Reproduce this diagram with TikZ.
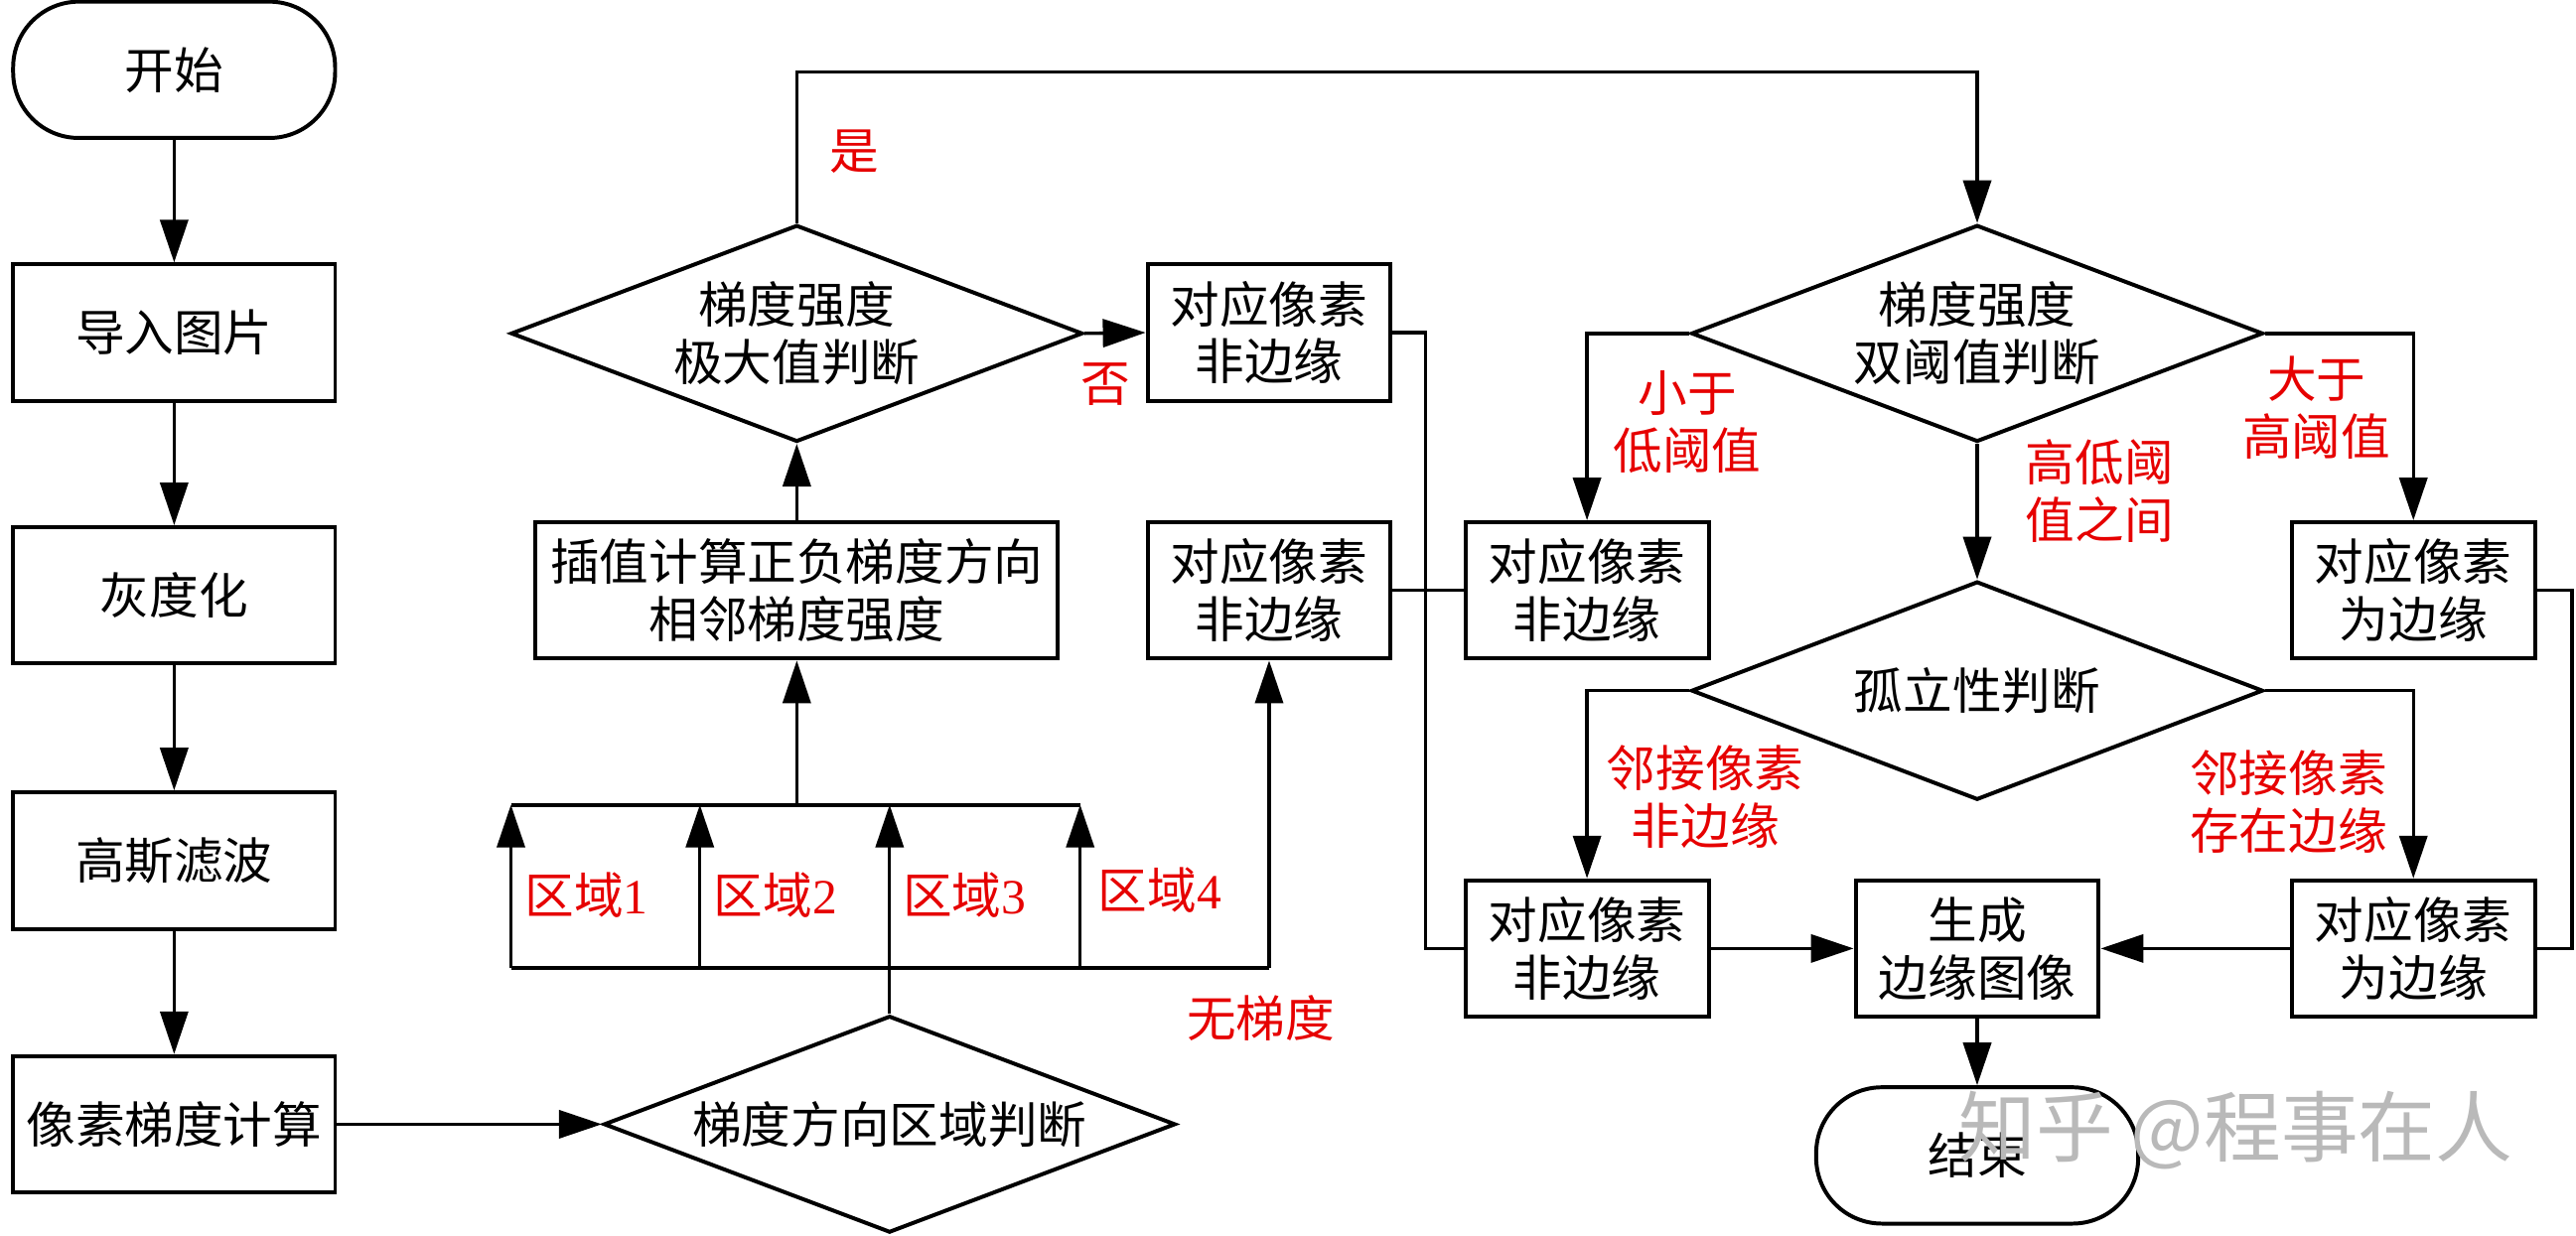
\documentclass[tikz,border=0pt]{standalone}
\usepackage{fontspec}
\setmainfont{Noto Sans CJK SC}
\newfontfamily\latinfont{Liberation Serif}
\usetikzlibrary{shapes.geometric,arrows.meta}
\definecolor{lblred}{RGB}{230,0,0}
\definecolor{wmgray}{RGB}{185,185,185}
\begin{document}
\begin{tikzpicture}[x=0.5pt,y=-0.5pt,
  every node/.style={font=\fontsize{15pt}{17.5pt}\selectfont, align=center, inner sep=0pt},
  box/.style={draw, line width=1.2pt, rectangle, minimum width=#1, minimum height=41.5pt},
  box/.default=74pt,
  term/.style={draw, line width=1.2pt, rectangle, rounded corners=20pt, minimum width=98pt, minimum height=41.5pt},
  dia/.style={draw, line width=1.2pt, diamond, aspect=2.6, minimum width=174pt, minimum height=66pt},
  lbl/.style={text=lblred},
  conn/.style={line width=1pt},
  bus/.style={line width=1.2pt},
  arr/.style={conn, -{Triangle[length=13pt,width=8.5pt]}}
]
\useasboundingbox (0,0) rectangle (1568,752);

% left column
\node[term] (start) at (106,42.5) {开始};
\node[box=98pt] (import) at (106,202.5) {导入图片};
\node[box=98pt] (gray) at (106,362.5) {灰度化};
\node[box=98pt] (gauss) at (106,524) {高斯滤波};
\node[box=98pt] (grad) at (106,684.5) {像素梯度计算};

% middle
\node[dia] (dirj) at (541.5,684.5) {梯度方向区域判断};
\node[box=159pt] (interp) at (485,359.5) {插值计算正负梯度方向\\相邻梯度强度};
\node[dia] (maxj) at (485,203) {梯度强度\\极大值判断};
\node[box] (nA) at (772.5,202.5) {对应像素\\非边缘};
\node[box] (nB) at (772.5,359.5) {对应像素\\非边缘};

% right
\node[dia] (dbl) at (1203.5,203) {梯度强度\\双阈值判断};
\node[box] (low) at (966,359.5) {对应像素\\非边缘};
\node[box] (high) at (1469,359.5) {对应像素\\为边缘};
\node[dia, minimum height=66.5pt] (iso) at (1203.5,420.5) {孤立性判断};
\node[box] (nbot) at (966,577.5) {对应像素\\非边缘};
\node[box] (gen) at (1203.5,577.5) {生成\\边缘图像};
\node[box] (ebot) at (1469,577.5) {对应像素\\为边缘};
\node[term] (endt) at (1203.5,703.5) {结束};

% helper coordinates
\coordinate (topy) at (0,44);
\coordinate (busx) at (867.5,0);
\coordinate (rx) at (1565.5,0);
\foreach \x [count=\i] in {311,426,541.5,657.5} {
  \coordinate (rb\i) at (\x,589.5);
  \coordinate (rt\i) at (\x,490);
}

% left column connectors
\draw[arr] (start.south) -- (import.north);
\draw[arr] (import.south) -- (gray.north);
\draw[arr] (gray.south) -- (gauss.north);
\draw[arr] (gauss.south) -- (grad.north);
\draw[arr] (grad.east) -- (dirj.west);

% region buses
\draw[conn] (dirj.north) -- (rb3);
\draw[bus] (rb1) -- (nB.south |- rb1);
\draw[arr] (nB.south |- rb1) -- (nB.south);
\foreach \i in {1,...,4} \draw[arr] (rb\i) -- (rt\i);
\draw[bus] (rt1) -- (rt4);
\draw[arr] (interp.south |- rt1) -- (interp.south);
\draw[arr] (interp.north) -- (maxj.south);
\draw[arr] (maxj.north) -- (maxj.north |- topy) -| (dbl.north);
\draw[arr] (maxj.east) -- (nA.west);
\draw[conn] (nA.east) -- (busx |- nA.east) -- (busx |- nbot.west) -- (nbot.west);
\draw[conn] (nB.east) -- (low.west);

% right part
\draw[arr] (dbl.west) -| (low.north);
\draw[arr] (dbl.east) -| (high.north);
\draw[arr] (dbl.south) -- (iso.north);
\draw[arr] (iso.west) -| (nbot.north);
\draw[arr] (iso.east) -| (ebot.north);
\draw[arr] (nbot.east) -- (gen.west);
\draw[arr] (ebot.west) -- (gen.east);
\draw[arr] (gen.south) -- (endt.north);
\draw[conn] (high.east) -- (rx |- high.east) -- (rx |- ebot.east) -- (ebot.east);

% labels
\node[lbl] (yes) at (520,92) {是};
\node[lbl] (no) at (673,234) {否};
\node[lbl] (lt) at (1027,257) {小于\\低阈值};
\node[lbl] (gt) at (1410,248) {大于\\高阈值};
\node[lbl] (mid) at (1278,299) {高低阈\\值之间};
\node[lbl] (nne) at (1038,485) {邻接像素\\非边缘};
\node[lbl] (nhe) at (1393,488) {邻接像素\\存在边缘};
\node[lbl] (z1) at (357,545) {区域{\latinfont 1}};
\node[lbl] (z2) at (472,545) {区域{\latinfont 2}};
\node[lbl] (z3) at (587,545) {区域{\latinfont 3}};
\node[lbl] (z4) at (706,542) {区域{\latinfont 4}};
\node[lbl] (nog) at (767.5,620) {无梯度};

% watermark
\node[text=wmgray, font=\fontsize{23.5pt}{25pt}\selectfont] (wm) at (1361,688) {知乎 @程事在人};
\end{tikzpicture}
\end{document}
